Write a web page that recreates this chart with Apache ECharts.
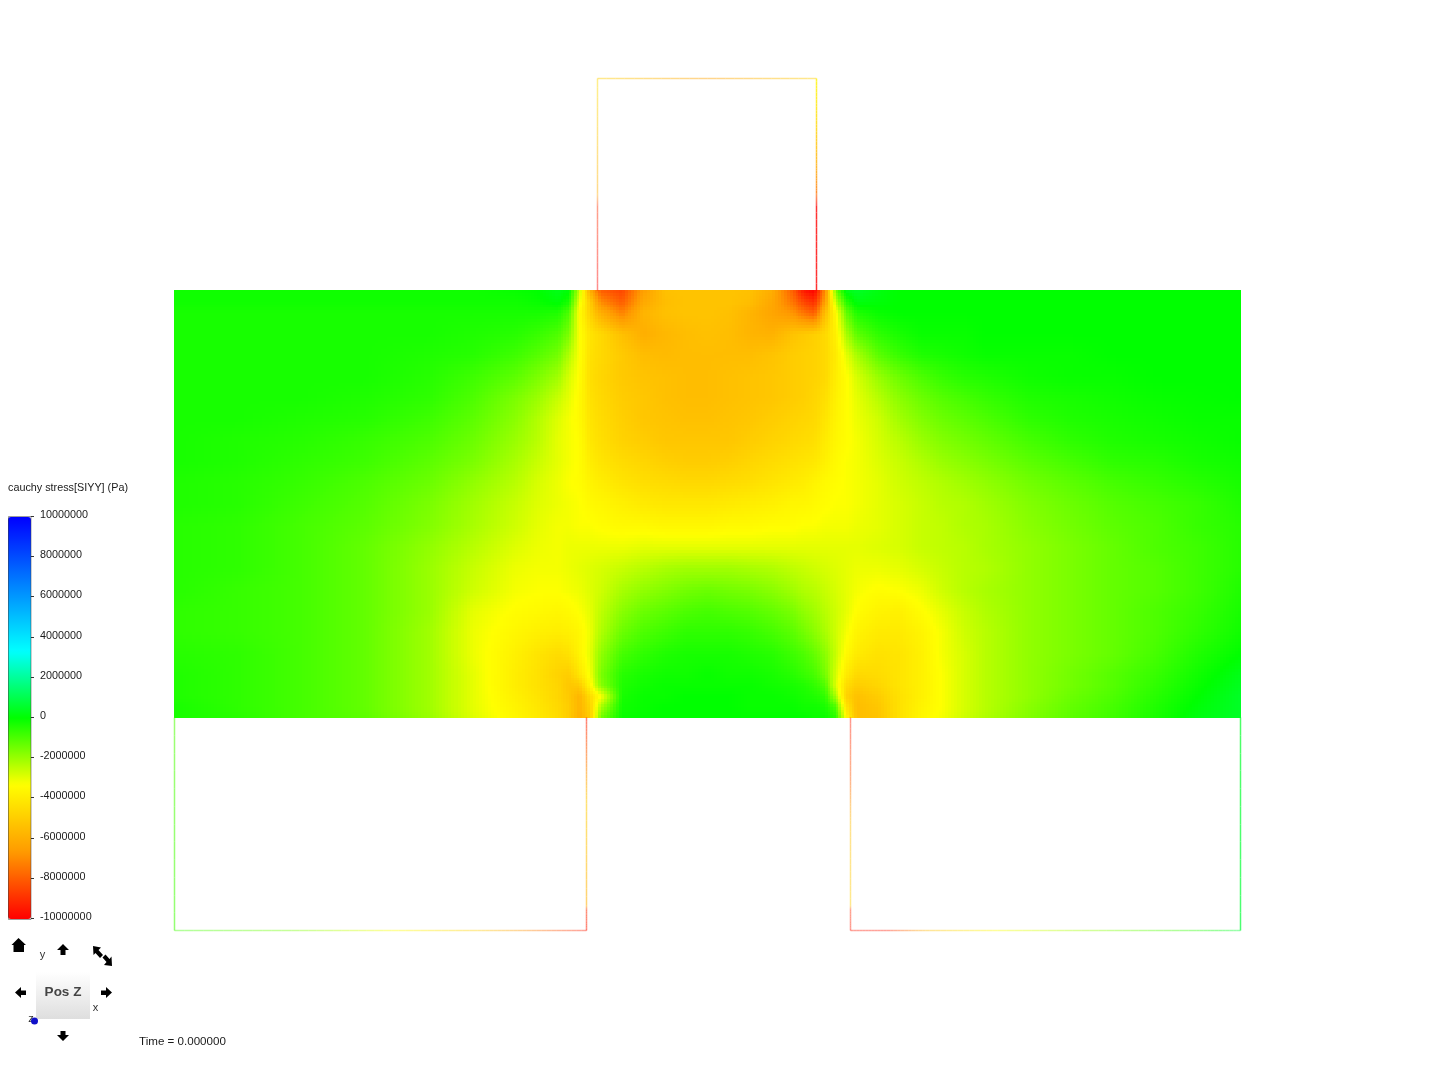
<!DOCTYPE html>
<html><head><meta charset="utf-8"><title>cauchy stress SIYY</title>
<style>html,body{margin:0;padding:0;background:#fff}#c{width:1440px;height:1080px}</style>
<script src="https://cdn.jsdelivr.net/npm/echarts@6/dist/echarts.min.js"></script>
</head><body><div id="c"></div>
<script>
// Stress scale
const legendTitle = 'cauchy stress[SIYY] (Pa)';
const timeLabel = 'Time = 0.000000';
const scaleMin = -10000000, scaleMax = 10000000, scaleStep = 2000000;
const scaleTicks = [-10000000,-8000000,-6000000,-4000000,-2000000,0,2000000,4000000,6000000,8000000,10000000];
const rampColors = ['#ff0000','#ff9a00','#ffff00','#00ff00','#00ffff','#0080ff','#0000ff'];

// Node positions of the slab (model units)
const xNodes = [0,3,6,9,12,14,16,17,18,18.5, 19,19.5,20,21,22,23,24,25,26,27, 28,29,29.5,30,30.5,31,31.5,32,33,34, 35,36,37,38,40,42,44,46,48,50];
const yNodes = [30.05,29.5,29,28,27,26,25,24,23,22,21,20,19,18,17,16,15,14,13,12,11.5,11,10.5,10];

// SIYY at the nodes, in MPa (one row per yNodes entry)
const stressMPa = [
[-.2,-.2,-.2,-.2,-.2,-.2,-.1,0,.3,.1, -2.5,-6,-8,-8.5,-6.5,-5.4,-5.3,-5.3,-5.3,-5.4, -6,-8,-9.5,-10,-7,-1.5,.3,.5,.2,0, 0,0,0,0,0,0,0,0,0,0],
[-.2,-.2,-.2,-.2,-.2,-.2,-.2,-.1,.1,-.3, -3,-5,-7,-8,-6.2,-5.5,-5.3,-5.3,-5.3,-5.5, -6.2,-7.5,-8.5,-9,-6.5,-2.5,-.5,.2,.1,0, 0,0,0,0,0,0,0,0,0,0],
[-.3,-.3,-.3,-.3,-.3,-.3,-.3,-.3,-.4,-1, -3.4,-4.8,-6,-7.2,-5.8,-5.4,-5.3,-5.3,-5.4,-5.8, -6.3,-6.8,-7.5,-8,-5.5,-3.5,-1.3,-.4,-.1,0, 0,0,0,0,0,0,0,0,0,0],
[-.3,-.3,-.3,-.3,-.3,-.4,-.5,-.7,-1,-1.6, -3.3,-4.2,-4.6,-5.4,-6,-5.7,-5.5,-5.4,-5.5,-5.8, -5.9,-5.3,-5.1,-4.9,-4.6,-3.8,-2.2,-1.2,-.6,-.3, -.1,-.1,-.1,0,0,0,0,0,0,0],
[-.3,-.3,-.3,-.3,-.4,-.5,-.8,-1.1,-1.5,-2.3, -3.3,-4.3,-4.6,-5.1,-5.5,-5.6,-5.5,-5.5,-5.5,-5.5, -5.3,-5,-4.9,-4.8,-4.6,-4,-3,-2.2,-1.2,-.7, -.4,-.3,-.2,-.1,-.1,-.1,0,0,0,0],
[-.3,-.3,-.3,-.3,-.5,-.8,-1.2,-1.6,-2.1,-2.8, -3.4,-4.4,-4.7,-5.1,-5.3,-5.4,-5.5,-5.5,-5.4,-5.3, -5.2,-5,-4.9,-4.8,-4.6,-3.9,-3.4,-2.8,-2,-1.4, -1,-.7,-.5,-.4,-.2,-.1,-.1,0,0,0],
[-.3,-.3,-.3,-.4,-.6,-1,-1.6,-2,-2.6,-3, -3.5,-4.3,-4.6,-5,-5.2,-5.4,-5.5,-5.5,-5.4,-5.3, -5.2,-5,-4.9,-4.7,-4.4,-3.8,-3.4,-3,-2.4,-1.8, -1.4,-1.1,-.9,-.7,-.4,-.3,-.2,-.1,-.05,0],
[-.3,-.3,-.4,-.5,-.8,-1.2,-1.8,-2.3,-2.9,-3.2, -3.5,-4.2,-4.5,-4.9,-5.2,-5.3,-5.4,-5.4,-5.3,-5.2, -5,-4.8,-4.7,-4.6,-4.2,-3.7,-3.4,-3.1,-2.7,-2.1, -1.7,-1.4,-1.2,-1,-.6,-.4,-.3,-.2,-.1,-.1],
[-.3,-.4,-.5,-.7,-1,-1.4,-2,-2.4,-3,-3.2, -3.4,-4.1,-4.4,-4.8,-5,-5.2,-5.2,-5.2,-5.2,-5, -4.8,-4.6,-4.5,-4.4,-4,-3.6,-3.4,-3.2,-2.8,-2.4, -2,-1.7,-1.5,-1.3,-.9,-.6,-.4,-.3,-.2,-.1],
[-.3,-.4,-.6,-.8,-1.2,-1.6,-2.2,-2.6,-3,-3.2, -3.4,-3.9,-4.2,-4.5,-4.7,-4.9,-5,-5,-4.9,-4.7, -4.5,-4.3,-4.2,-4.1,-3.8,-3.5,-3.3,-3.2,-2.9,-2.6, -2.3,-2,-1.8,-1.6,-1.2,-.9,-.6,-.5,-.3,-.2],
[-.4,-.5,-.7,-1,-1.4,-1.9,-2.4,-2.8,-3.1,-3.3, -3.4,-3.7,-3.9,-4.2,-4.4,-4.5,-4.6,-4.6,-4.5,-4.4, -4.2,-4,-3.9,-3.7,-3.5,-3.4,-3.3,-3.2,-3,-2.7, -2.5,-2.3,-2.1,-1.9,-1.5,-1.2,-.9,-.7,-.5,-.3],
[-.4,-.5,-.8,-1.1,-1.6,-2.1,-2.6,-2.9,-3.1,-3.2, -3.3,-3.5,-3.6,-3.8,-4,-4.1,-4.1,-4.1,-4,-3.9, -3.8,-3.6,-3.6,-3.5,-3.4,-3.3,-3.3,-3.2,-3,-2.8, -2.6,-2.4,-2.3,-2.1,-1.7,-1.4,-1.1,-.9,-.7,-.4],
[-.5,-.6,-.9,-1.2,-1.7,-2.2,-2.7,-3,-3.2,-3.2, -3.3,-3.3,-3.4,-3.5,-3.5,-3.6,-3.6,-3.6,-3.5,-3.5, -3.4,-3.4,-3.3,-3.3,-3.2,-3.2,-3.2,-3.1,-3,-2.8, -2.6,-2.5,-2.3,-2.2,-1.8,-1.5,-1.2,-1,-.7,-.5],
[-.5,-.6,-.9,-1.3,-1.9,-2.4,-2.9,-3.1,-3.2,-3.1, -3.1,-3.1,-3.1,-3.1,-3,-3,-3,-3,-3,-3, -3,-3,-3,-3,-3,-3,-3,-3,-2.9,-2.8, -2.6,-2.5,-2.4,-2.2,-1.9,-1.6,-1.3,-1,-.8,-.5],
[-.5,-.6,-.9,-1.3,-2,-2.6,-3.1,-3.2,-3.2,-3.1, -3,-2.9,-2.8,-2.6,-2.4,-2.2,-2.1,-2.1,-2.1,-2.2, -2.3,-2.5,-2.6,-2.7,-2.8,-2.9,-3,-3.1,-3.1,-3, -2.8,-2.6,-2.4,-2.3,-1.9,-1.6,-1.3,-1.1,-.8,-.5],
[-.5,-.7,-.9,-1.3,-2,-2.7,-3.2,-3.3,-3.3,-3.2, -3.1,-2.9,-2.7,-2.2,-1.9,-1.7,-1.5,-1.4,-1.5,-1.6, -1.8,-2.1,-2.3,-2.4,-2.6,-2.8,-3,-3.2,-3.4,-3.3, -3.1,-2.7,-2.4,-2.2,-1.9,-1.6,-1.3,-1.1,-.8,-.4],
[-.6,-.7,-.9,-1.3,-2,-3,-3.4,-3.5,-3.6,-3.5, -3.3,-3,-2.5,-1.8,-1.4,-1.2,-1,-.9,-1,-1.1, -1.3,-1.6,-1.9,-2.1,-2.4,-2.7,-3,-3.4,-3.7,-3.8, -3.4,-3,-2.6,-2.3,-1.9,-1.6,-1.3,-1,-.7,-.3],
[-.6,-.7,-.9,-1.3,-2.1,-3.1,-3.6,-3.8,-3.9,-3.8, -3.6,-3.1,-2.3,-1.4,-1,-.8,-.6,-.6,-.6,-.7, -.9,-1.2,-1.5,-1.8,-2.2,-2.7,-3.2,-3.7,-4,-4, -3.7,-3.2,-2.7,-2.4,-1.9,-1.6,-1.3,-1,-.6,-.2],
[-.5,-.6,-.9,-1.3,-2.1,-3.1,-3.8,-4.2,-4.5,-4.3, -3.7,-3,-1.9,-.9,-.6,-.4,-.3,-.3,-.3,-.4, -.5,-.8,-1,-1.3,-1.8,-2.6,-3.5,-4,-4.3,-4.2, -3.8,-3.2,-2.8,-2.4,-1.9,-1.6,-1.3,-.9,-.4,0],
[-.4,-.6,-.9,-1.3,-2.1,-3,-3.9,-4.3,-4.8,-5, -4.2,-3.2,-1.6,-.5,-.3,-.2,-.2,-.1,-.2,-.2, -.3,-.5,-.7,-.9,-1.5,-2.8,-4,-4.6,-4.5,-4.2, -3.8,-3.3,-2.8,-2.4,-1.9,-1.5,-1.1,-.7,-.2,.3],
[-.4,-.6,-.9,-1.3,-2.1,-3,-3.9,-4.3,-4.7,-5.2, -5.1,-3.6,-1.8,-.4,-.2,-.1,-.1,-.1,-.1,-.1, -.2,-.3,-.4,-.6,-1,-2.9,-4.5,-5,-4.7,-4.2, -3.8,-3.3,-2.8,-2.4,-1.9,-1.5,-1.1,-.6,-.1,.4],
[-.4,-.6,-.9,-1.3,-2.1,-3,-3.8,-4.2,-4.7,-5.1, -5.8,-4.5,-3.3,-.3,-.1,-.1,0,0,0,-.1, -.1,-.2,-.3,-.4,-.6,-2.2,-4.8,-5.4,-5,-4.3, -3.8,-3.3,-2.8,-2.4,-1.9,-1.4,-1,-.5,0,.5],
[-.3,-.6,-.9,-1.3,-2.1,-3,-3.7,-4.1,-4.6,-5, -5.8,-4.8,-2.2,-.2,-.1,0,0,0,0,-.1, -.1,-.1,-.2,-.2,-.3,-1,-4.2,-5.5,-5.2,-4.3, -3.7,-3.3,-2.8,-2.4,-1.8,-1.3,-.9,-.4,.1,.5],
[-.3,-.5,-.9,-1.2,-2,-2.9,-3.6,-4,-4.5,-5, -6,-5,-1.5,-.1,0,0,0,0,0,0, 0,0,0,-.1,-.1,-.5,-3.5,-5.5,-5.3,-4.3, -3.6,-3.2,-2.7,-2.3,-1.7,-1.2,-.8,-.3,.2,.5]
];

// Block outlines: [x, y, MPa] read along each edge
const topBlockLeft  = [[19.84,30.05,-10],[19.84,34,-9],[19.84,34.6,-6],[19.84,39.98,-4.5]];
const topBlockTop   = [[19.84,39.98,-5],[25,39.98,-6.5],[30.12,39.98,-5]];
const topBlockRight = [[30.12,39.98,-3.6],[30.12,38,-4.5],[30.12,36,-6],[30.12,34.6,-7.5],[30.12,34,-10],[30.12,30.05,-10]];
const leftBlockLeft   = [[.02,10,-1],[.02,.02,-.8]];
const leftBlockBottom = [[.02,.02,-.8],[5.5,.02,-1.5],[10.2,.02,-3.3],[14.2,.02,-5],[16.5,.02,-7],[19.34,.02,-9.5]];
const leftBlockRight  = [[19.34,.02,-9.5],[19.34,1,-9],[19.34,1.2,-6],[19.34,6,-5],[19.34,8,-7.5],[19.34,10,-9.5]];
const rightBlockLeft   = [[31.71,10,-9.5],[31.71,7,-8],[31.71,5,-5.5],[31.71,1.2,-5],[31.71,1,-9],[31.71,.02,-9.5]];
const rightBlockBottom = [[31.71,.02,-9.5],[33.4,.02,-9.5],[35.4,.02,-5.5],[38.6,.02,-3.3],[43.3,.02,-1.8],[47.9,.02,-.5],[49.98,.02,.7]];
const rightBlockRight  = [[49.98,.02,.7],[49.98,10,.5]];

const chart = echarts.init(document.getElementById('c'), null, {renderer:'canvas', width:1440, height:1080});
const ink = '#1a1a1a', sansFont = '"Liberation Sans", Arial, sans-serif';

function rampColor(mpa){
  const t = Math.max(0, Math.min(1, (mpa*1e6 - scaleMin)/(scaleMax - scaleMin)));
  return echarts.color.lerp(t, rampColors);
}

// smooth shading of each mesh cell from its four corner values
const fieldData = [];
yNodes.forEach((y,j)=>xNodes.forEach((x,i)=>fieldData.push([x,y,stressMPa[j][i]*1e6,i,j])));
const shadeStep = 3;
function renderCell(params, api){
  const i = api.value(3), j = api.value(4);
  if (i >= xNodes.length-1 || j >= yNodes.length-1) return null;
  const p0 = api.coord([xNodes[i], yNodes[j]]), p1 = api.coord([xNodes[i+1], yNodes[j+1]]);
  const v00 = stressMPa[j][i], v10 = stressMPa[j][i+1], v01 = stressMPa[j+1][i], v11 = stressMPa[j+1][i+1];
  const nx = Math.max(1, Math.round((p1[0]-p0[0])/shadeStep)), ny = Math.max(1, Math.round((p1[1]-p0[1])/shadeStep));
  const children = [];
  for (let a=0;a<nx;a++) for (let b=0;b<ny;b++){
    const u=(a+.5)/nx, w=(b+.5)/ny;
    const v=(v00*(1-u)+v10*u)*(1-w)+(v01*(1-u)+v11*u)*w;
    const xa=Math.round(p0[0]+(p1[0]-p0[0])*a/nx), xb=Math.round(p0[0]+(p1[0]-p0[0])*(a+1)/nx);
    const ya=Math.round(p0[1]+(p1[1]-p0[1])*b/ny), yb=Math.round(p0[1]+(p1[1]-p0[1])*(b+1)/ny);
    children.push({type:'rect', shape:{x:xa,y:ya,width:xb-xa,height:yb-ya}, style:{fill:rampColor(v)}, silent:true});
  }
  return {type:'group', children};
}

function edgeSeries(name, points, alpha){
  return {
    type:'custom', name, coordinateSystem:'cartesian2d', xAxisIndex:0, yAxisIndex:0, silent:true, animation:false, clip:false, z:3,
    data: points, encode:{x:0,y:1},
    renderItem(params, api){
      const k = params.dataIndex;
      if (k >= points.length-1) return null;
      const a = points[k], b = points[k+1];
      const pa = api.coord([a[0],a[1]]), pb = api.coord([b[0],b[1]]);
      const children = [], n = 12;
      for (let s=0;s<n;s++){
        const t0=s/n, t1=(s+1)/n;
        children.push({type:'line', shape:{
            x1:Math.floor(pa[0]+(pb[0]-pa[0])*t0)+.5, y1:Math.floor(pa[1]+(pb[1]-pa[1])*t0)+.5,
            x2:Math.floor(pa[0]+(pb[0]-pa[0])*t1)+.5, y2:Math.floor(pa[1]+(pb[1]-pa[1])*t1)+.5},
          style:{stroke:rampColor(a[2]+(b[2]-a[2])*(t0+t1)/2), lineWidth:1.5, opacity:alpha}});
      }
      return {type:'group', children};
    }
  };
}

function poly(points, extra){ return Object.assign({type:'polygon', shape:{points}, style:{fill:'#000'}, silent:true}, extra||{}); }
const upArrow    = [[63,944],[69,950],[65.5,950],[65.5,955],[60.5,955],[60.5,950],[57,950]];
const downArrow  = [[63,1041],[69,1035],[65.5,1035],[65.5,1031],[60.5,1031],[60.5,1035],[57,1035]];
const leftArrow  = [[15,992.5],[21,987],[21,990.5],[26,990.5],[26,995],[21,995],[21,998]];
const rightArrow = [[112,992.5],[106,987],[106,990.5],[101,990.5],[101,995],[106,995],[106,998]];
const homeIcon   = [[18.5,938],[26,945],[24,945],[24,952],[13.5,952],[13.5,945],[11.5,945]];
const growNW     = [[93,946],[101,947.5],[98.5,950],[103,955],[100,958],[95.5,953],[93.5,955]];
const growSE     = [[112,966],[104,965],[106.5,962],[102.5,957.5],[105.5,954.5],[109.5,959],[111.5,956.5]];

chart.setOption({
  animation:false,
  backgroundColor:'#fff',
  textStyle:{fontFamily:sansFont},
  title:{text:legendTitle, left:8, top:483, padding:0, textStyle:{fontSize:10.8, fontWeight:'normal', color:ink, fontFamily:sansFont}},
  grid:[
    {left:174, top:78, width:1067, height:853, show:false},
    {left:8, top:517, width:23, height:402, show:false}
  ],
  xAxis:[
    {type:'value', min:0, max:50, show:false, gridIndex:0},
    {type:'value', min:0, max:1, show:false, gridIndex:1}
  ],
  yAxis:[
    {type:'value', gridIndex:0, min:0, max:40, show:false},
    {type:'value', gridIndex:1, min:scaleMin, max:scaleMax, interval:scaleStep, position:'right',
     axisLine:{show:false}, splitLine:{show:false}, axisTick:{show:false},
     axisLabel:{show:true, margin:9, color:ink, fontSize:10.8, fontFamily:sansFont, verticalAlign:'bottom', lineHeight:4, formatter:v=>String(v)}}
  ],
  visualMap:{
    type:'continuous', seriesIndex:0, dimension:2, min:scaleMin, max:scaleMax, show:true, calculable:false,
    left:8, top:517, padding:0, itemWidth:23, itemHeight:402, text:['',''], showLabel:false, hoverLink:false,
    inRange:{color:rampColors}, borderWidth:0
  },
  series:[
    {type:'custom', name:'SIYY', coordinateSystem:'cartesian2d', xAxisIndex:0, yAxisIndex:0, silent:true, animation:false, clip:false,
     progressive:0, data:fieldData, encode:{x:0,y:1}, renderItem:renderCell, z:2},
    edgeSeries('top block left', topBlockLeft, .45),
    edgeSeries('top block top', topBlockTop, .45),
    edgeSeries('top block right', topBlockRight, .8),
    edgeSeries('left block left', leftBlockLeft, .55),
    edgeSeries('left block bottom', leftBlockBottom, .4),
    edgeSeries('left block right', leftBlockRight, .55),
    edgeSeries('right block left', rightBlockLeft, .45),
    edgeSeries('right block bottom', rightBlockBottom, .4),
    edgeSeries('right block right', rightBlockRight, .7),
    {type:'custom', name:'scale ticks', coordinateSystem:'cartesian2d', xAxisIndex:1, yAxisIndex:1, silent:true, animation:false, clip:false, z:12,
     data:scaleTicks.map(v=>[1,v]), encode:{x:0,y:1},
     renderItem(params, api){
       const p = api.coord([api.value(0), api.value(1)]), y = Math.round(p[1])-.5;
       return {type:'line', shape:{x1:p[0],y1:y,x2:p[0]+3,y2:y}, style:{stroke:'#333', lineWidth:1}};
     }}
  ],
  graphic:[
    {type:'text', left:139, top:1036, silent:true, style:{text:timeLabel, fontSize:11.6, fill:ink, fontFamily:sansFont}},
    {type:'rect', shape:{x:8.5,y:516.5,width:22.5,height:403}, silent:true, z:10, style:{fill:'none', stroke:'rgba(60,60,60,.5)', lineWidth:1}},
    {type:'rect', shape:{x:36,y:972,width:54,height:47}, silent:true,
     style:{fill:new echarts.graphic.LinearGradient(0,0,0,1,[{offset:0,color:'#ffffff'},{offset:1,color:'#dedede'}])}},
    {type:'text', x:63, y:992, silent:true, style:{text:'Pos Z', fontSize:13.5, fontWeight:'bold', fill:'#444', align:'center', verticalAlign:'middle', fontFamily:sansFont}},
    {type:'text', x:42.5, y:955, silent:true, style:{text:'y', fontSize:11, fill:'#333', align:'center', verticalAlign:'middle', fontFamily:sansFont}},
    {type:'text', x:95.5, y:1007.5, silent:true, style:{text:'x', fontSize:11, fill:'#333', align:'center', verticalAlign:'middle', fontFamily:sansFont}},
    {type:'text', x:31, y:1018.5, silent:true, style:{text:'z', fontSize:11, fill:'#333', align:'center', verticalAlign:'middle', fontFamily:sansFont}},
    {type:'circle', shape:{cx:34.5,cy:1021,r:3.5}, silent:true, style:{fill:'#1010c8'}},
    poly(upArrow), poly(downArrow), poly(leftArrow), poly(rightArrow), poly(homeIcon), poly(growNW), poly(growSE)
  ]
});
</script></body></html>
